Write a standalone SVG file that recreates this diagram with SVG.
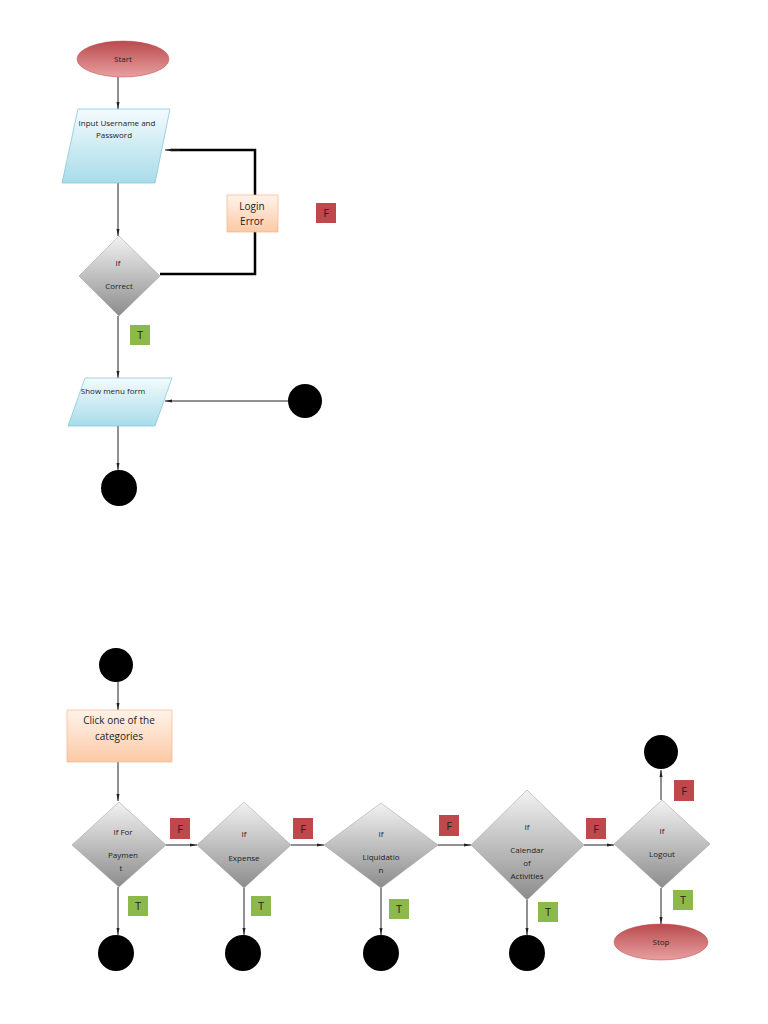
<svg xmlns="http://www.w3.org/2000/svg" width="768" height="1024" viewBox="0 0 768 1024">
<style>
text{font-family:"Open Sans","Liberation Sans",sans-serif;font-size:8px;fill:#222;text-anchor:middle}
.big{font-size:10px}
.c{stroke:#222;stroke-width:1;fill:none}
.thick{stroke:#000;stroke-width:2.5;fill:none}
.dot{fill:#000}
.fb{fill:#c0474a}
.tb{fill:#8db84a}
.lbl{font-size:11px;fill:#222}
</style>
<defs>
<linearGradient id="red" x1="0" y1="0" x2="0" y2="1"><stop offset="0" stop-color="#b94a4d"/><stop offset="1" stop-color="#e8a0a0"/></linearGradient>
<linearGradient id="blue" x1="0" y1="0" x2="0" y2="1"><stop offset="0" stop-color="#f4fbfd"/><stop offset="1" stop-color="#a8dcea"/></linearGradient>
<linearGradient id="gray" x1="0" y1="0" x2="0" y2="1"><stop offset="0" stop-color="#f2f2f2"/><stop offset="1" stop-color="#8c8c8c"/></linearGradient>
<linearGradient id="orange" x1="0" y1="0" x2="0" y2="1"><stop offset="0" stop-color="#fff3ea"/><stop offset="1" stop-color="#fbc9a5"/></linearGradient>
<marker id="a" markerWidth="8" markerHeight="6" refX="7" refY="3" orient="auto"><path d="M0,1.5 L7,3 L0,4.5z" fill="#222"/></marker>
</defs>
<g id="connectors">
<line class="c" x1="118" y1="77" x2="118" y2="109" marker-end="url(#a)"/>
<line class="c" x1="118" y1="183" x2="118" y2="236" marker-end="url(#a)"/>
<polyline class="thick" points="160,274 255,274 255,150 172,150"/>
<line class="c" x1="180" y1="150" x2="165" y2="150" marker-end="url(#a)"/>
<line class="c" x1="118" y1="316" x2="118" y2="378" marker-end="url(#a)"/>
<line class="c" x1="288" y1="401" x2="165" y2="401" marker-end="url(#a)"/>
<line class="c" x1="118" y1="426" x2="118" y2="470" marker-end="url(#a)"/>
<line class="c" x1="118" y1="682" x2="118" y2="710" marker-end="url(#a)"/>
<line class="c" x1="118" y1="762" x2="118" y2="801" marker-end="url(#a)"/>
<line class="c" x1="166" y1="845" x2="197" y2="845" marker-end="url(#a)"/>
<line class="c" x1="291" y1="845" x2="324" y2="845" marker-end="url(#a)"/>
<line class="c" x1="438" y1="845" x2="471" y2="845" marker-end="url(#a)"/>
<line class="c" x1="584" y1="845" x2="614" y2="845" marker-end="url(#a)"/>
<line class="c" x1="118" y1="887" x2="118" y2="935" marker-end="url(#a)"/>
<line class="c" x1="244" y1="888" x2="244" y2="935" marker-end="url(#a)"/>
<line class="c" x1="381" y1="888" x2="381" y2="935" marker-end="url(#a)"/>
<line class="c" x1="527" y1="900" x2="527" y2="935" marker-end="url(#a)"/>
<line class="c" x1="661" y1="800" x2="661" y2="770" marker-end="url(#a)"/>
<line class="c" x1="661" y1="888" x2="661" y2="924" marker-end="url(#a)"/>
</g>
<g id="start"><ellipse cx="123" cy="59" rx="46" ry="18" fill="url(#red)" stroke="#c0474a" stroke-width="0.5"/><text x="123" y="62">Start</text></g>
<g id="input"><polygon points="78,109 170,109 155,183 62,183" fill="url(#blue)" stroke="#7cc3d8" stroke-width="0.7"/><text x="117" y="126">Input Username and</text><text x="114" y="138">Password</text></g>
<g id="correct"><polygon points="119,236 160,276 119,316 79,276" fill="url(#gray)" stroke="#999" stroke-width="0.5"/><text x="118" y="266">If</text><text x="119" y="289">Correct</text></g>
<g id="loginerror"><rect x="227" y="195" width="51" height="37" fill="url(#orange)" stroke="#f5b58a" stroke-width="0.7"/><text class="big" x="252" y="210">Login</text><text class="big" x="252" y="225">Error</text></g>
<g id="f1"><rect class="fb" x="316" y="203" width="20" height="20"/><text class="lbl" x="326" y="217">F</text></g>
<g id="t1"><rect class="tb" x="130" y="325" width="20" height="20"/><text class="lbl" x="140" y="339">T</text></g>
<g id="menu"><polygon points="85,378 172,378 155,426 68,426" fill="url(#blue)" stroke="#7cc3d8" stroke-width="0.7"/><text x="113" y="394">Show menu form</text></g>
<g id="c1"><circle class="dot" cx="305" cy="401" r="17"/></g>
<g id="c2"><circle class="dot" cx="119" cy="488" r="18"/></g>
<g id="c3"><circle class="dot" cx="116" cy="665" r="17"/></g>
<g id="click"><rect x="67" y="710" width="105" height="52" fill="url(#orange)" stroke="#f5b58a" stroke-width="0.7"/><text class="big" x="119" y="724">Click one of the</text><text class="big" x="119" y="740">categories</text></g>
<g id="d1"><polygon points="119,802 166,845 119,887 72,845" fill="url(#gray)" stroke="#999" stroke-width="0.5"/><text x="123" y="835">If For</text><text x="123" y="858">Paymen</text><text x="121" y="871">t</text></g>
<g id="d2"><polygon points="244,802 291,845 244,888 197,845" fill="url(#gray)" stroke="#999" stroke-width="0.5"/><text x="244" y="837">If</text><text x="244" y="861">Expense</text></g>
<g id="d3"><polygon points="381,803 438,845 381,888 324,845" fill="url(#gray)" stroke="#999" stroke-width="0.5"/><text x="381" y="837">If</text><text x="381" y="860">Liquidatio</text><text x="381" y="873">n</text></g>
<g id="d4"><polygon points="527,790 584,845 527,900 471,845" fill="url(#gray)" stroke="#999" stroke-width="0.5"/><text x="527" y="830">If</text><text x="527" y="853">Calendar</text><text x="527" y="866">of</text><text x="527" y="879">Activities</text></g>
<g id="d5"><polygon points="662,800 710,844 662,888 614,844" fill="url(#gray)" stroke="#999" stroke-width="0.5"/><text x="662" y="834">If</text><text x="662" y="857">Logout</text></g>
<g id="f2"><rect class="fb" x="170" y="818" width="20" height="21"/><text class="lbl" x="180" y="833">F</text></g>
<g id="f3"><rect class="fb" x="293" y="818" width="20" height="21"/><text class="lbl" x="303" y="833">F</text></g>
<g id="f4"><rect class="fb" x="439" y="815" width="20" height="21"/><text class="lbl" x="449" y="830">F</text></g>
<g id="f5"><rect class="fb" x="586" y="818" width="20" height="21"/><text class="lbl" x="596" y="833">F</text></g>
<g id="f6"><rect class="fb" x="674" y="780" width="20" height="21"/><text class="lbl" x="684" y="795">F</text></g>
<g id="t2"><rect class="tb" x="128" y="896" width="20" height="20"/><text class="lbl" x="138" y="910">T</text></g>
<g id="t3"><rect class="tb" x="251" y="896" width="20" height="20"/><text class="lbl" x="261" y="910">T</text></g>
<g id="t4"><rect class="tb" x="389" y="899" width="20" height="20"/><text class="lbl" x="399" y="913">T</text></g>
<g id="t5"><rect class="tb" x="538" y="902" width="20" height="20"/><text class="lbl" x="548" y="916">T</text></g>
<g id="t6"><rect class="tb" x="673" y="890" width="20" height="20"/><text class="lbl" x="683" y="904">T</text></g>
<g id="c4"><circle class="dot" cx="116" cy="953" r="18"/></g>
<g id="c5"><circle class="dot" cx="243" cy="953" r="18"/></g>
<g id="c6"><circle class="dot" cx="381" cy="953" r="18"/></g>
<g id="c7"><circle class="dot" cx="527" cy="953" r="18"/></g>
<g id="c8"><circle class="dot" cx="661" cy="752" r="17"/></g>
<g id="stop"><ellipse cx="661" cy="942" rx="47" ry="18" fill="url(#red)" stroke="#c0474a" stroke-width="0.5"/><text x="661" y="945">Stop</text></g>
</svg>
